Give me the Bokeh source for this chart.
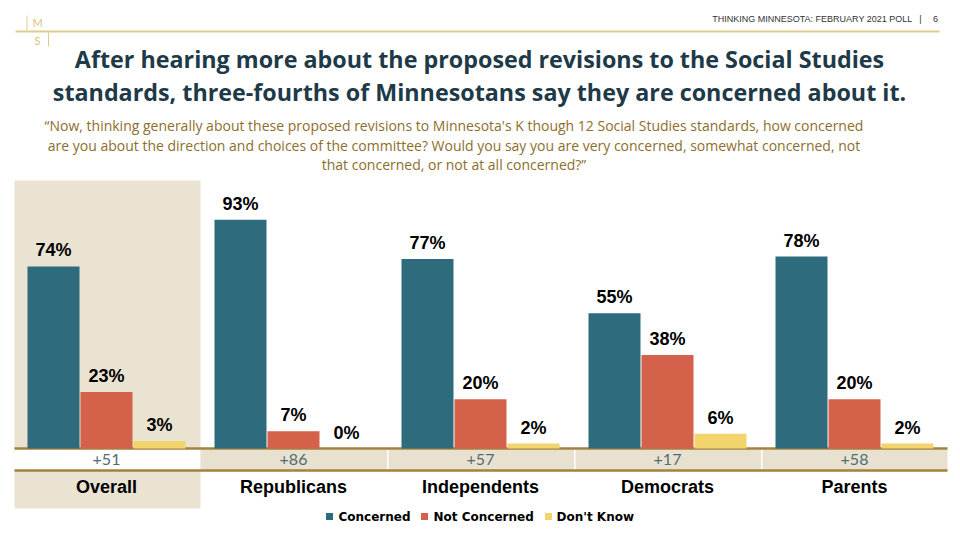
from bokeh.plotting import figure
from bokeh.models import ColumnDataSource, Range1d, Label, BoxAnnotation
from bokeh.transform import dodge
from bokeh.core.properties import value
from bokeh.embed import file_html
from bokeh.resources import INLINE

# ---- data ----
groups = ["Overall", "Republicans", "Independents", "Democrats", "Parents"]
concerned = [74, 93, 77, 55, 78]
not_concerned = [23, 7, 20, 38, 20]
dont_know = [3, 0, 2, 6, 2]
net = ["+51", "+86", "+57", "+17", "+58"]
series_names = ["Concerned", "Not Concerned", "Don't Know"]

C_CON = "#2e6b7d"
C_NOT = "#d4614a"
C_DK = "#f2d46c"
BEIGE = "#ebe3d1"
BROWN = "#a3823f"
GOLD = "#e0cc8a"

# pixel -> data helpers (layout only)
S = 2.46     # px per percent
G = 187.0    # px per group
def X(px):
    return (px - 106.0) / G
def Y(py):
    return (448.0 - py) / S

W, H = 960, 540
p = figure(width=W, height=H, output_backend="svg", toolbar_location=None,
           x_range=Range1d(X(0), X(W)), y_range=Range1d(Y(H), Y(0)),
           x_axis_location=None, y_axis_location=None, min_border=0,
           outline_line_color=None, background_fill_color="white",
           border_fill_color="white")
p.grid.visible = False

# ---- background decorations ----
p.add_layout(BoxAnnotation(left=X(14), right=X(200), top=Y(180), bottom=Y(508),
                           fill_color=BEIGE, fill_alpha=1, line_color=None, level="underlay"))
p.add_layout(BoxAnnotation(left=X(14), right=X(200), top=Y(448), bottom=Y(470),
                           fill_color="white", fill_alpha=1, line_color=None, level="underlay"))
for l, r in [(200, 386.5), (388, 573.5), (575, 760.5), (762, 947)]:
    p.add_layout(BoxAnnotation(left=X(l), right=X(r), top=Y(448), bottom=Y(470),
                               fill_color="#e9e1cf", fill_alpha=1, line_color=None, level="underlay"))
p.segment(x0=[X(14), X(14)], x1=[X(947), X(947)], y0=[Y(448), Y(470)], y1=[Y(448), Y(470)],
          line_color=BROWN, line_width=2.5)

# header
p.segment(x0=[X(15)], x1=[X(939)], y0=[Y(31)], y1=[Y(31)], line_color=GOLD, line_width=2)
p.segment(x0=[X(26.5), X(48)], x1=[X(26.5), X(48)], y0=[Y(15), Y(32)], y1=[Y(30), Y(46)],
          line_color=GOLD, line_width=1)
p.add_layout(Label(x=X(37), y=Y(22), text="M", text_font="Lato", text_font_size="11px",
                   text_color="#d9c27d", text_align="center", text_baseline="middle"))
p.add_layout(Label(x=X(37), y=Y(40), text="S", text_font="Lato", text_font_size="11px",
                   text_color="#d9c27d", text_align="center", text_baseline="middle"))
for tx, txt, al in [(912, "THINKING MINNESOTA: FEBRUARY 2021 POLL", "right"),
                    (920, "|", "center"), (935, "6", "center")]:
    p.add_layout(Label(x=X(tx), y=Y(18), text=txt, text_font="Liberation Sans",
                       text_font_size="9px", text_color="#333333", text_align=al,
                       text_baseline="middle"))

# title
for i, line in enumerate(["After hearing more about the proposed revisions to the Social Studies",
                          "standards, three-fourths of Minnesotans say they are concerned about it."]):
    p.add_layout(Label(x=X(479), y=Y(58 + 33 * i), text=line, text_font="Open Sans",
                       text_font_size="23.3px", text_font_style="bold", text_color="#1e3a48",
                       text_align="center", text_baseline="middle"))
sub = ["\u201cNow, thinking generally about these proposed revisions to Minnesota's K though 12 Social Studies standards, how concerned",
       "are you about the direction and choices of the committee? Would you say you are very concerned, somewhat concerned, not",
       "that concerned, or not at all concerned?\u201d"]
for i, line in enumerate(sub):
    p.add_layout(Label(x=X(453.5), y=Y(125 + 19.5 * i), text=line, text_font="Open Sans",
                       text_font_size="14px", text_color="#8d6e2c",
                       text_align="center", text_baseline="middle"))

# ---- bars ----
idx = list(range(len(groups)))
src = ColumnDataSource(dict(
    idx=idx, groups=groups, concerned=concerned, not_concerned=not_concerned, dont_know=dont_know,
    c_lbl=[f"{v}%" for v in concerned], n_lbl=[f"{v}%" for v in not_concerned],
    d_lbl=[f"{v}%" for v in dont_know], net=net,
    net_y=[Y(459)] * len(groups), grp_y=[Y(486)] * len(groups)))

off = 53.0 / G
bw = 52.0 / G
for col, lbl, o, c in [("concerned", "c_lbl", -off, C_CON), ("not_concerned", "n_lbl", 0.0, C_NOT),
                       ("dont_know", "d_lbl", off, C_DK)]:
    p.vbar(x=dodge("idx", o, range=p.x_range), top=col, bottom=0, width=bw, source=src,
           fill_color=c, line_color=None)
    p.text(x=dodge("idx", o, range=p.x_range), y=col, text=lbl, source=src, y_offset=-16,
           text_font=value("Liberation Sans"), text_font_style="bold", text_font_size="18px",
           text_color="black", text_align="center", text_baseline="middle")

p.text(x="idx", y="net_y", text="net", source=src, text_font=value("Lato"), text_font_size="16px",
       text_color="#4d6d72", text_align="center", text_baseline="middle")
p.text(x="idx", y="grp_y", text="groups", source=src, text_font=value("Liberation Sans"),
       text_font_style="bold", text_font_size="18px", text_color="black",
       text_align="center", text_baseline="middle")

# ---- legend ----
leg_sq = [329, 424, 548]
leg_tx = [338, 433, 556]
for sq, tx, name, c in zip(leg_sq, leg_tx, series_names, [C_CON, C_NOT, C_DK]):
    p.rect(x=[X(sq)], y=[Y(516)], width=7 / G, height=7 / S, fill_color=c, line_color=None)
    p.add_layout(Label(x=X(tx), y=Y(516), text=name, text_font="DejaVu Sans",
                       text_font_style="bold", text_font_size="12px", text_color="black",
                       text_align="left", text_baseline="middle"))

open("out.html", "w").write(file_html(p, INLINE))
